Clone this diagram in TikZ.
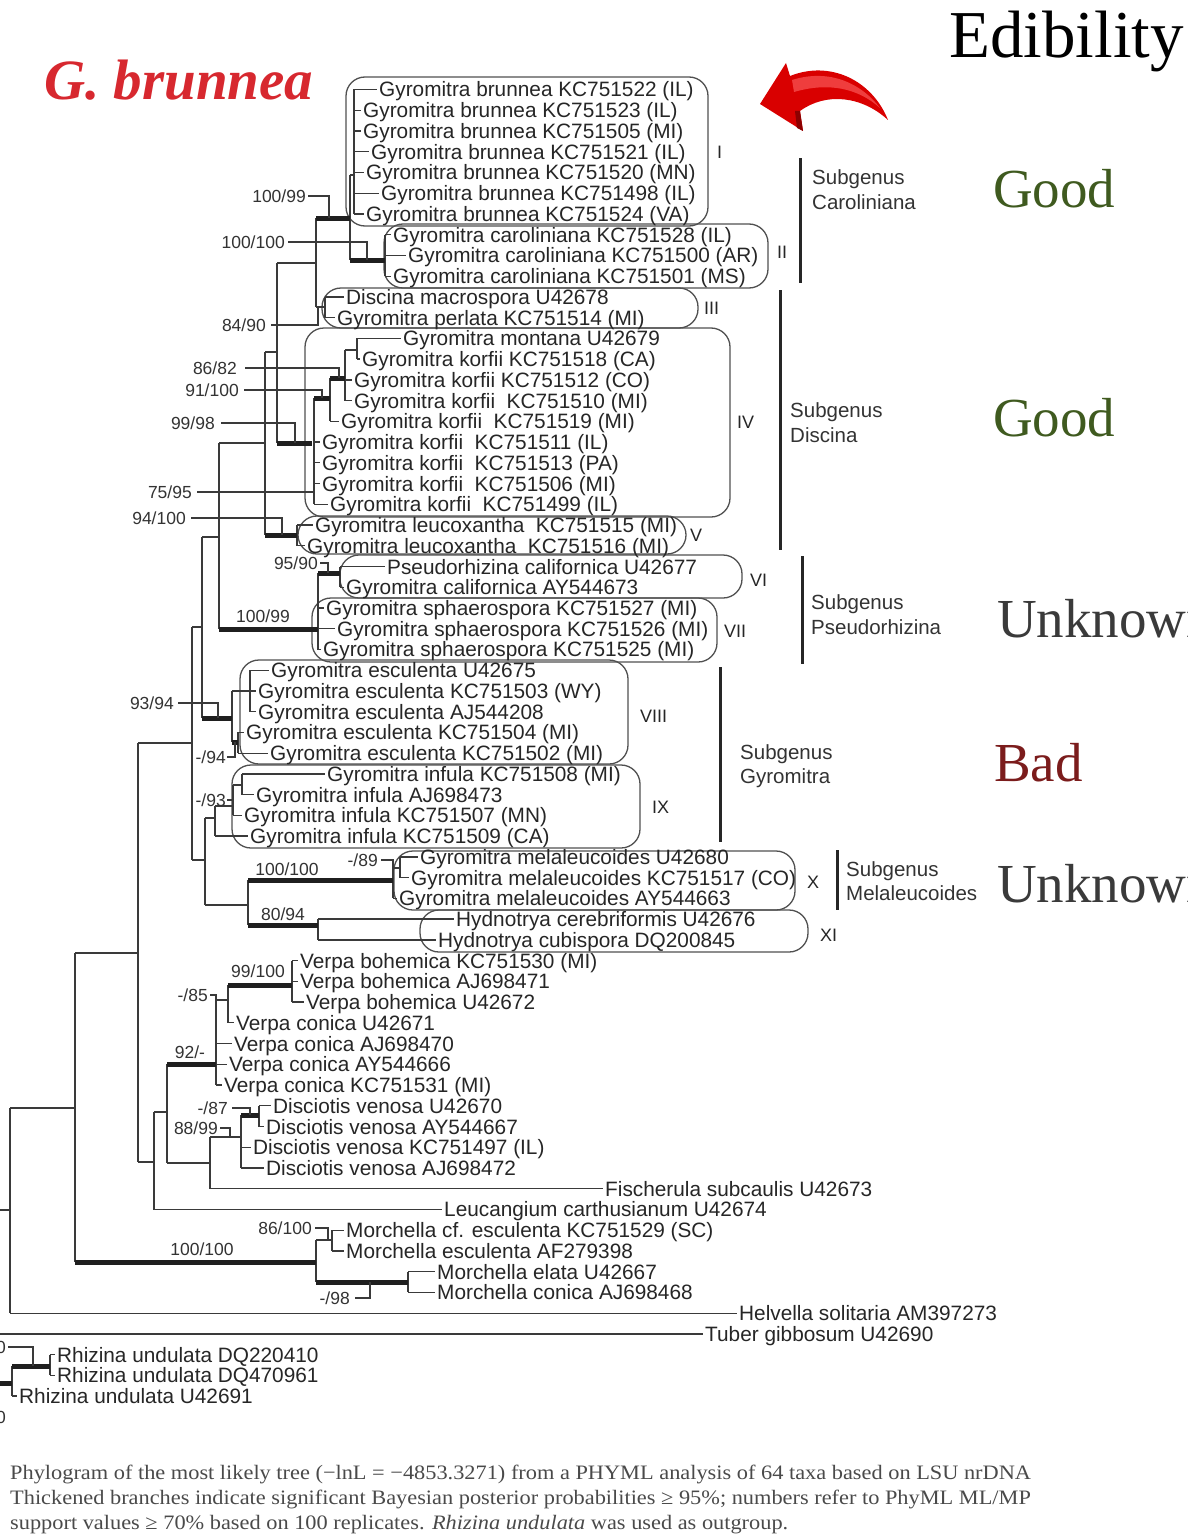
\documentclass[tikz,border=0pt]{standalone}
\usepackage{fontspec}
\setmainfont{Liberation Serif}
\newfontfamily\sansf{Liberation Sans}
\newfontfamily\capf[FakeStretch=1.09]{Liberation Serif}
\definecolor{ln}{HTML}{3A3A3A}
\definecolor{txc}{HTML}{262626}
\definecolor{boxc}{HTML}{505050}
\definecolor{goodc}{HTML}{3F5A1F}
\definecolor{badc}{HTML}{7B1C1C}
\definecolor{unkc}{HTML}{3A3A3A}
\definecolor{brun}{HTML}{D7282F}
\definecolor{capc}{HTML}{4A4A4A}
\newcommand\leaf[2]{\draw[br] (#1,0 |- t#2.west) -- ([xshift=-2pt]t#2.west);}
\begin{document}
\begin{tikzpicture}[x=1pt,y=-1pt,
  br/.style={draw=ln,line width=1.3pt},
  thk/.style={draw=black!88,line width=5pt},
  lead/.style={draw=ln,line width=1.2pt},
  clbox/.style={draw=boxc,line width=1.3pt,rounded corners=19pt},
  bar/.style={draw=black!85,line width=3pt},
  tx/.style={anchor=west,inner sep=0pt,text height=15pt,text depth=0pt,text=txc,font=\sansf\fontsize{20.8}{22}\selectfont},
  sup/.style={anchor=east,inner sep=0pt,text height=12.5pt,text depth=0pt,text=black!80,font=\sansf\fontsize{17.5}{18}\selectfont},
  supc/.style={sup,anchor=center},
  rom/.style={anchor=west,inner sep=0pt,text height=13pt,text depth=0pt,text=txc,font=\sansf\fontsize{18}{19}\selectfont},
  sg/.style={anchor=west,inner sep=0pt,text height=15pt,text depth=0pt,text=black!80,font=\sansf\fontsize{20.5}{22}\selectfont},
  edi/.style={anchor=base west,inner sep=0pt,font=\fontsize{55}{58}\selectfont},
  capl/.style={anchor=base west,inner sep=0pt,text=capc,font=\capf\fontsize{20.5}{24}\selectfont}]
\useasboundingbox (0,0) rectangle (1187,1536);
\fill[white] (0,0) rectangle (1187,1536);

% ---------- clade boxes ----------
\draw[clbox] (346,77) rectangle (708,226);
\draw[clbox] (384,224) rectangle (768,288);
\draw[clbox] (322,288) rectangle (698,328);
\draw[clbox] (305,328) rectangle (730,517);
\draw[clbox] (298,516) rectangle (686,554);
\draw[clbox] (340,555) rectangle (742,598);
\draw[clbox] (312,598) rectangle (717,662);
\draw[clbox] (240,660) rectangle (628,764);
\draw[clbox] (232,765) rectangle (640,848);
\draw[clbox] (394,851) rectangle (795,910);
\draw[clbox] (420,910) rectangle (808,952);

% ---------- taxa ----------
\foreach \k/\x/\t in {
1/379/Gyromitra brunnea KC751522 (IL),
2/363/Gyromitra brunnea KC751523 (IL),
3/363/Gyromitra brunnea KC751505 (MI),
4/371/Gyromitra brunnea KC751521 (IL),
5/366/Gyromitra brunnea KC751520 (MN),
6/381/Gyromitra brunnea KC751498 (IL),
7/366/Gyromitra brunnea KC751524 (VA),
8/393/Gyromitra caroliniana KC751528 (IL),
9/408/Gyromitra caroliniana KC751500 (AR),
10/393/Gyromitra caroliniana KC751501 (MS),
11/346/Discina macrospora U42678,
12/337/Gyromitra perlata KC751514 (MI),
13/403/Gyromitra montana U42679,
14/362/Gyromitra korfii KC751518 (CA),
15/354/Gyromitra korfii KC751512 (CO),
16/354/Gyromitra korfii\ \ KC751510 (MI),
17/341/Gyromitra korfii\ \ KC751519 (MI),
18/322/Gyromitra korfii\ \ KC751511 (IL),
19/322/Gyromitra korfii\ \ KC751513 (PA),
20/322/Gyromitra korfii\ \ KC751506 (MI),
21/330/Gyromitra korfii\ \ KC751499 (IL),
22/315/Gyromitra leucoxantha\ \ KC751515 (MI),
23/307/Gyromitra leucoxantha\ \ KC751516 (MI),
24/387/Pseudorhizina californica U42677,
25/346/Gyromitra californica AY544673,
26/326/Gyromitra sphaerospora KC751527 (MI),
27/337/Gyromitra sphaerospora KC751526 (MI),
28/323/Gyromitra sphaerospora KC751525 (MI),
29/271/Gyromitra esculenta U42675,
30/258/Gyromitra esculenta KC751503 (WY),
31/258/Gyromitra esculenta AJ544208,
32/246/Gyromitra esculenta KC751504 (MI),
33/270/Gyromitra esculenta KC751502 (MI),
34/327/Gyromitra infula KC751508 (MI),
35/256/Gyromitra infula AJ698473,
36/244/Gyromitra infula KC751507 (MN),
37/250/Gyromitra infula KC751509 (CA),
38/420/Gyromitra melaleucoides U42680,
39/411/Gyromitra melaleucoides KC751517 (CO),
40/399/Gyromitra melaleucoides AY544663,
41/456/Hydnotrya cerebriformis U42676,
42/438/Hydnotrya cubispora DQ200845,
43/300/Verpa bohemica KC751530 (MI),
44/300/Verpa bohemica AJ698471,
45/306/Verpa bohemica U42672,
46/236/Verpa conica U42671,
47/234/Verpa conica AJ698470,
48/229/Verpa conica AY544666,
49/224/Verpa conica KC751531 (MI),
50/273/Disciotis venosa U42670,
51/266/Disciotis venosa AY544667,
52/253/Disciotis venosa KC751497 (IL),
53/266/Disciotis venosa AJ698472,
54/605/Fischerula subcaulis U42673,
55/444/Leucangium carthusianum U42674,
56/346/Morchella cf. esculenta KC751529 (SC),
57/346/Morchella esculenta AF279398,
58/437/Morchella elata U42667,
59/437/Morchella conica AJ698468,
60/739/Helvella solitaria AM397273,
61/705/Tuber gibbosum U42690,
62/57/Rhizina undulata DQ220410,
63/57/Rhizina undulata DQ470961,
64/19/Rhizina undulata U42691}
  \node[tx] (t\k) at (\x,{89.5+20.74*(\k-1)}) {\t};

% ---------- leaf stubs ----------
\foreach \k in {1,...,7} {\leaf{354}{\k}}
\foreach \k in {8,9,10} {\leaf{385}{\k}}
\leaf{325}{11} \leaf{325}{12}
\leaf{357}{13} \leaf{357}{14}
\leaf{345}{15} \leaf{345}{16}
\leaf{330}{17}
\foreach \k in {18,...,21} {\leaf{314}{\k}}
\leaf{297}{22} \leaf{297}{23}
\leaf{340}{24} \leaf{340}{25}
\foreach \k in {26,27,28} {\leaf{318}{\k}}
\foreach \k in {29,30,31} {\leaf{250}{\k}}
\leaf{238}{32} \leaf{238}{33}
\leaf{242}{34} \leaf{242}{35}
\leaf{233}{36} \leaf{215}{37}
\leaf{400}{38} \leaf{400}{39} \leaf{393}{40}
\leaf{318}{41} \leaf{318}{42}
\foreach \k in {43,44,45} {\leaf{292}{\k}}
\leaf{228}{46}
\foreach \k in {47,48,49} {\leaf{216}{\k}}
\leaf{259}{50} \leaf{259}{51}
\leaf{241}{52} \leaf{241}{53}
\leaf{210}{54} \leaf{154}{55}
\leaf{332}{56} \leaf{332}{57}
\leaf{408}{58} \leaf{408}{59}
\leaf{10}{60} \leaf{-5}{61}
\leaf{50}{62} \leaf{50}{63} \leaf{12}{64}

% ---------- internal branches ----------
\draw[br] (354,89.5) -- (354,213.9);
\draw[br] (350,175) -- (354,175);
\draw[br] (350,175) -- (350,260);
\draw[br] (385,234.7) -- (385,276.2);
\draw[br] (325,296.9) -- (325,317.6);
\draw[br] (316,307) -- (325,307);
\draw[br] (316,218) -- (316,307);
\draw[br] (277,263) -- (316,263);
\draw[br] (357,338.4) -- (357,359.1);
\draw[br] (345,350) -- (357,350);
\draw[br] (345,350) -- (345,400.6);
\draw[br] (330,378) -- (330,421.3);
\draw[br] (314,398) -- (314,504.3);
\draw[br] (277,263) -- (277,443);
\draw[br] (265,352) -- (277,352);
\draw[br] (297,525) -- (297,545.8);
\draw[br] (265,352) -- (265,535);
\draw[br] (219,443) -- (265,443);
\draw[br] (340,566.5) -- (340,587.3);
\draw[br] (318,573) -- (318,649.5);
\draw[br] (219,443) -- (219,629);
\draw[br] (202,537) -- (219,537);
\draw[br] (250,670.2) -- (250,711.7);
\draw[br] (232,691) -- (250,691);
\draw[br] (232,691) -- (232,742);
\draw[br] (238,732.4) -- (238,753.2);
\draw[br] (202,537) -- (202,718);
\draw[br] (242,773.9) -- (242,794.7);
\draw[br] (233,785) -- (242,785);
\draw[br] (233,785) -- (233,815.4);
\draw[br] (215,806) -- (233,806);
\draw[br] (215,806) -- (215,836.1);
\draw[br] (205,818) -- (215,818);
\draw[br] (205,818) -- (205,905);
\draw[br] (205,905) -- (248,905);
\draw[br] (248,880) -- (248,925);
\draw[br] (400,856.9) -- (400,877.6);
\draw[br] (393,868) -- (400,868);
\draw[br] (393,868) -- (393,898.4);
\draw[br] (318,919.1) -- (318,939.8);
\draw[br] (192,627) -- (202,627);
\draw[br] (192,860) -- (205,860);
\draw[br] (192,627) -- (192,860);
\draw[br] (138,743) -- (192,743);
\draw[br] (138,743) -- (138,1162);
\draw[br] (138,1162) -- (154,1162);
\draw[br] (154,1112) -- (154,1209.5);
\draw[br] (154,1112) -- (167,1112);
\draw[br] (167,1064.3) -- (167,1163);
\draw[br] (216,1000) -- (216,1085);
\draw[br] (216,1000) -- (228,1000);
\draw[br] (228,985) -- (228,1022.8);
\draw[br] (292,960.6) -- (292,1002.1);
\draw[br] (167,1163) -- (210,1163);
\draw[br] (210,1137) -- (210,1188.7);
\draw[br] (210,1137) -- (241,1137);
\draw[br] (241,1115) -- (241,1168);
\draw[br] (259,1105.8) -- (259,1126.5);
\draw[br] (75,953) -- (138,953);
\draw[br] (75,953) -- (75,1262);
\draw[br] (316,1240) -- (316,1282);
\draw[br] (316,1240) -- (332,1240);
\draw[br] (332,1230.2) -- (332,1250.9);
\draw[br] (408,1271.7) -- (408,1292.4);
\draw[br] (10,1108) -- (75,1108);
\draw[br] (10,1108) -- (10,1313.2);
\draw[br] (-5,1210) -- (10,1210);
\draw[br] (12,1366) -- (12,1396.1);
\draw[br] (50,1354.6) -- (50,1375.4);

% ---------- thick (supported) branches ----------
\draw[thk] (316,218) -- (350,218);
\draw[thk] (350,260) -- (385,260);
\draw[thk] (277,443) -- (312,443);
\draw[thk] (314,398) -- (330,398);
\draw[thk] (330,378) -- (345,378);
\draw[thk] (265,535) -- (297,535);
\draw[thk] (219,629) -- (318,629);
\draw[thk] (318,573) -- (340,573);
\draw[thk] (202,718) -- (232,718);
\draw[thk] (232,742) -- (238,742);
\draw[thk] (248,880) -- (393,880);
\draw[thk] (248,925) -- (318,925);
\draw[thk] (228,985) -- (292,985);
\draw[thk] (167,1064.3) -- (216,1064.3);
\draw[thk] (241,1115) -- (259,1115);
\draw[thk] (75,1262) -- (316,1262);
\draw[thk] (316,1282) -- (408,1282);
\draw[thk] (-5,1383) -- (12,1383);
\draw[thk] (12,1366) -- (50,1366);

% ---------- support values ----------
\node[sup] (s1) at (306,196) {100/99};
\draw[lead] (s1.east) ++(2,0) -| (329,218);
\node[sup] (s2) at (285,242) {100/100};
\draw[lead] (s2.east) ++(3,0) -| (367,260);
\node[sup] (s3) at (266,325) {84/90};
\draw[lead] (s3.east) ++(5,0) -| (318,308);
\node[sup] (s4) at (237,368) {86/82};
\draw[lead] (s4.east) ++(8,0) -| (339,378);
\node[sup] (s5) at (239,390) {91/100};
\draw[lead] (s5.east) ++(5,0) -| (322,398);
\node[sup] (s6) at (215,423) {99/98};
\draw[lead] (s6.east) ++(6,0) -| (295,443);
\node[sup] (s7) at (192,492) {75/95};
\draw[lead] (s7.east) ++(5,0) -- (314,492);
\node[sup] (s8) at (186,518) {94/100};
\draw[lead] (s8.east) ++(5,0) -| (282,535);
\node[sup] (s9) at (318,563) {95/90};
\draw[lead] (s9.east) ++(2,0) -| (328,573);
\node[supc] (s10) at (263,616) {100/99};
\node[sup] (s11) at (174,703) {93/94};
\draw[lead] (s11.east) ++(4,0) -| (218,718);
\node[sup] (s12) at (226,757) {-/94};
\draw[lead] (s12.east) ++(1,0) -| (235,742);
\node[sup] (s13) at (226,800) {-/93};
\draw[lead] (s13.east) ++(1,0) -- (233,800);
\node[sup] (s14) at (378,860) {-/89};
\draw[lead] (s14.east) ++(3,0) -| (393,868);
\node[supc] (s15) at (287,869) {100/100};
\node[supc] (s16) at (283,914) {80/94};
\node[supc] (s17) at (258,971) {99/100};
\node[sup] (s18) at (208,995) {-/85};
\draw[lead] (s18.east) ++(2,0) -| (216,1000);
\node[supc] (s19) at (190,1052) {92/-};
\node[sup] (s20) at (228,1108) {-/87};
\draw[lead] (s20.east) ++(4,0) -| (250,1115);
\node[sup] (s21) at (218,1128) {88/99};
\draw[lead] (s21.east) ++(2,0) -| (230,1137);
\node[sup] (s22) at (312,1228) {86/100};
\draw[lead] (s22.east) ++(3,0) -| (328,1240);
\node[supc] (s23) at (202,1249) {100/100};
\node[sup] (s24) at (350,1298) {-/98};
\draw[lead] (s24.east) ++(5,0) -| (370,1282);
\node[sup] (s25) at (6,1347) {0};
\draw[lead] (s25.east) ++(2,0) -| (33,1366);
\node[sup] (s26) at (6,1417) {0};

% ---------- clade numerals ----------
\node[rom] (r1) at (717,152) {I};
\node[rom] (r2) at (777,252) {II};
\node[rom] (r3) at (704,308) {III};
\node[rom] (r4) at (737,422) {IV};
\node[rom] (r5) at (690,535) {V};
\node[rom] (r6) at (750,580) {VI};
\node[rom] (r7) at (724,631) {VII};
\node[rom] (r8) at (640,716) {VIII};
\node[rom] (r9) at (652,807) {IX};
\node[rom] (r10) at (807,882) {X};
\node[rom] (r11) at (820,935) {XI};

% ---------- subgenera ----------
\draw[bar] (800,158) -- (800,283);
\draw[bar] (780,290) -- (780,550);
\draw[bar] (802,556) -- (802,664);
\draw[bar] (720,667) -- (720,842);
\draw[bar] (837,850) -- (837,910);
\node[sg] (g1a) at (812,177) {Subgenus};
\node[sg] (g1b) at (812,202) {Caroliniana};
\node[sg] (g2a) at (790,410) {Subgenus};
\node[sg] (g2b) at (790,435) {Discina};
\node[sg] (g3a) at (811,602) {Subgenus};
\node[sg] (g3b) at (811,627) {Pseudorhizina};
\node[sg] (g4a) at (740,752) {Subgenus};
\node[sg] (g4b) at (740,776) {Gyromitra};
\node[sg] (g5a) at (846,869) {Subgenus};
\node[sg] (g5b) at (846,893) {Melaleucoides};

% ---------- edibility ----------
\node[edi,font=\fontsize{67}{70}\selectfont,text=black] (ed) at (949,58) {Edibility};
\node[edi,text=goodc] (e1) at (993,207) {Good};
\node[edi,text=goodc] (e2) at (993,436) {Good};
\node[edi,text=unkc] (e3) at (997,637) {Unknown};
\node[edi,text=badc] (e4) at (994,781) {Bad};
\node[edi,text=unkc] (e5) at (997,902) {Unknown};

% ---------- G. brunnea + arrow ----------
\node[anchor=base west,inner sep=0pt,text=brun,font=\fontsize{57}{60}\selectfont\bfseries\itshape] (gb) at (44,100) {G. brunnea};
\fill[red!85!black] (760,104) -- (786,63) -- (790,76)
   .. controls (830,60) and (872,80) .. (888,120)
   .. controls (862,96) and (826,92) .. (800,111) -- (803,131) -- cycle;
\fill[red!55!black] (795,111) -- (800,111) -- (803,131) -- (797,128) -- cycle;
\fill[red!60!white,opacity=0.6] (792,80) .. controls (830,68) and (862,84) .. (880,108)
   .. controls (858,88) and (828,82) .. (794,92) -- cycle;

% ---------- caption ----------
\node[capl] (c1) at (10,1479) {Phylogram of the most likely tree (−lnL = −4853.3271) from a PHYML analysis of 64 taxa based on LSU nrDNA};
\node[capl] (c2) at (10,1504) {Thickened branches indicate significant Bayesian posterior probabilities ≥ 95\%; numbers refer to PhyML ML/MP};
\node[capl] (c3) at (10,1529) {support values ≥ 70\% based on 100 replicates. \textit{Rhizina undulata} was used as outgroup.};
\end{tikzpicture}
\end{document}
